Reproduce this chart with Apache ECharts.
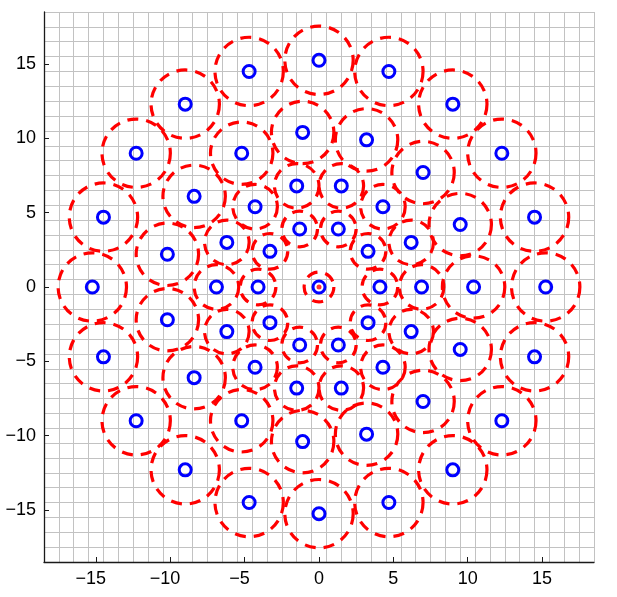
<!DOCTYPE html>
<html>
<head>
<meta charset="utf-8">
<script src="https://cdn.jsdelivr.net/npm/echarts@6/dist/echarts.min.js"></script>
<style>
  html, body { margin: 0; padding: 0; background: #fff; }
  #chart { width: 617px; height: 597px; }
</style>
</head>
<body>
<div id="chart"></div>
<script>
'use strict';

// point centres (centre, ring of 10, ring of 14, ring of 15, ring of 20)
var ptX = [0,
  4.1, 3.3, 1.3, -1.3, -3.3, -4.1, -3.3, -1.3, 1.3, 3.3,
  6.9, 6.2, 4.3, 1.5, -1.5, -4.3, -6.2, -6.9, -6.2, -4.3, -1.5, 1.5, 4.3, 6.2,
  10.4, 9.5, 7.0, 3.2, -1.1, -5.2, -8.4, -10.2, -10.2, -8.4, -5.2, -1.1, 3.2, 7.0, 9.5,
  15.25, 14.5, 12.3, 9.0, 4.7, 0, -4.7, -9.0, -12.3, -14.5, -15.25, -14.5, -12.3, -9.0, -4.7, 0, 4.7, 9.0, 12.3, 14.5];
var ptY = [0,
  0, 2.4, 3.9, 3.9, 2.4, 0, -2.4, -3.9, -3.9, -2.4,
  0, 3.0, 5.4, 6.8, 6.8, 5.4, 3.0, 0, -3.0, -5.4, -6.8, -6.8, -5.4, -3.0,
  0, 4.2, 7.7, 9.9, 10.4, 9.0, 6.1, 2.2, -2.2, -6.1, -9.0, -10.4, -9.9, -7.7, -4.2,
  0, 4.7, 9.0, 12.3, 14.5, 15.25, 14.5, 12.3, 9.0, 4.7, 0, -4.7, -9.0, -12.3, -14.5, -15.25, -14.5, -12.3, -9.0, -4.7];
// radius of the dashed circle round each point (data units)
var haloR = [1.0,
  1.2, 1.2, 1.2, 1.2, 1.2, 1.2, 1.2, 1.2, 1.2, 1.2,
  1.5, 1.5, 1.5, 1.5, 1.5, 1.5, 1.5, 1.5, 1.5, 1.5, 1.5, 1.5, 1.5, 1.5,
  2.1, 2.1, 2.1, 2.1, 2.1, 2.1, 2.1, 2.1, 2.1, 2.1, 2.1, 2.1, 2.1, 2.1, 2.1,
  2.3, 2.3, 2.3, 2.3, 2.3, 2.3, 2.3, 2.3, 2.3, 2.3, 2.3, 2.3, 2.3, 2.3, 2.3, 2.3, 2.3, 2.3, 2.3, 2.3];
var centreDot = [[0, 0]];
var tickVals = [-15, -10, -5, 0, 5, 10, 15];

var points = ptX.map(function (x, i) { return [x, ptY[i]]; });
var halos = ptX.map(function (x, i) { return [x, ptY[i], haloR[i]]; });

var FONT = "'Liberation Sans', Arial, Helvetica, sans-serif";
var INK = '#1a1a1a';

function minus(v) { return v < 0 ? '\u2212' + (-v) : String(v); }

function gridAxis() {
  return {
    type: 'value', min: -18.5, max: 18.5, interval: 1,
    axisLine: { show: true, onZero: false, lineStyle: { color: INK, width: 1.3 } },
    axisTick: { show: false },
    axisLabel: { show: false },
    splitLine: { show: true, lineStyle: { color: '#c2c2c2', width: 1 } }
  };
}

function labelAxis(pos, fmt) {
  return {
    type: 'value', position: pos, min: -18.5, max: 18.5,
    axisLine: { show: false, onZero: false },
    axisTick: { show: true, inside: true, length: 5, customValues: tickVals, lineStyle: { color: INK, width: 1 } },
    axisLabel: {
      customValues: tickVals, margin: 8, color: '#000', fontSize: 18, fontFamily: FONT,
      formatter: fmt,
      rich: { h: { color: 'rgba(0,0,0,0)', fontSize: 18, fontFamily: FONT } }
    },
    splitLine: { show: false }
  };
}

var chart = echarts.init(document.getElementById('chart'), null, { renderer: 'canvas' });
chart.setOption({
  animation: false,
  backgroundColor: '#fff',
  grid: { left: 44, right: 23, top: 12, bottom: 35, containLabel: false, outerBoundsMode: 'none' },
  xAxis: [
    gridAxis(),
    // minus sign hangs left of the centred number
    labelAxis('bottom', function (v) { return v < 0 ? minus(v) + '{h|\u2212}' : minus(v); })
  ],
  yAxis: [
    gridAxis(),
    labelAxis('left', minus)
  ],
  series: [{
    type: 'custom',
    xAxisIndex: 0, yAxisIndex: 0,
    data: halos,
    renderItem: function (params, api) {
      var c = api.coord([api.value(0), api.value(1)]);
      var s = api.size([api.value(2), api.value(2)]);
      return {
        type: 'circle',
        shape: { cx: c[0], cy: c[1], r: s[0] },
        style: { fill: 'none', stroke: '#ff0000', lineWidth: 3.2, lineDash: [11, 8] }
      };
    },
    z: 2
  }, {
    type: 'scatter',
    xAxisIndex: 0, yAxisIndex: 0,
    data: points,
    symbol: 'circle',
    symbolSize: 12,
    itemStyle: { color: 'rgba(0,0,0,0)', borderColor: '#0000ff', borderWidth: 3, opacity: 1 },
    z: 3
  }, {
    type: 'scatter',
    xAxisIndex: 0, yAxisIndex: 0,
    data: centreDot,
    symbol: 'circle',
    symbolSize: 5,
    itemStyle: { color: '#ff0000' },
    z: 4
  }]
});
</script>
</body>
</html>
